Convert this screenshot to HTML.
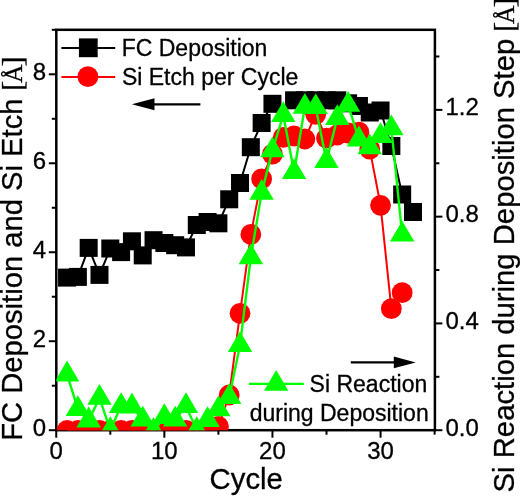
<!DOCTYPE html>
<html><head><meta charset="utf-8">
<style>
html,body{margin:0;padding:0;background:#fff;}
body{width:520px;height:496px;overflow:hidden;}
svg{display:block;}
text{font-family:"Liberation Sans",Arial,sans-serif;fill:#000;stroke:#000;stroke-width:0.3px;}
.tl{font-size:24px;}
.at{font-size:28.5px;}
.lg{font-size:23px;}
.sf{font-family:"Liberation Serif","Times New Roman",serif;}
</style></head>
<body>
<svg width="520" height="496" viewBox="0 0 520 496">
<defs><clipPath id="pc"><rect x="56.3" y="29.8" width="378.6" height="400.4"/></clipPath></defs>
<rect width="520" height="496" fill="#fff"/>
<rect x="56.3" y="29.8" width="378.6" height="400.4" fill="none" stroke="#000" stroke-width="2.5"/>
<line x1="48.8" y1="430.2" x2="56.3" y2="430.2" stroke="#000" stroke-width="2.0"/>
<line x1="51.8" y1="385.71" x2="56.3" y2="385.71" stroke="#000" stroke-width="2.0"/>
<line x1="48.8" y1="341.22" x2="56.3" y2="341.22" stroke="#000" stroke-width="2.0"/>
<line x1="51.8" y1="296.73" x2="56.3" y2="296.73" stroke="#000" stroke-width="2.0"/>
<line x1="48.8" y1="252.24" x2="56.3" y2="252.24" stroke="#000" stroke-width="2.0"/>
<line x1="51.8" y1="207.76" x2="56.3" y2="207.76" stroke="#000" stroke-width="2.0"/>
<line x1="48.8" y1="163.27" x2="56.3" y2="163.27" stroke="#000" stroke-width="2.0"/>
<line x1="51.8" y1="118.78" x2="56.3" y2="118.78" stroke="#000" stroke-width="2.0"/>
<line x1="48.8" y1="74.29" x2="56.3" y2="74.29" stroke="#000" stroke-width="2.0"/>
<line x1="51.8" y1="29.8" x2="56.3" y2="29.8" stroke="#000" stroke-width="2.0"/>
<line x1="434.9" y1="430.2" x2="442.4" y2="430.2" stroke="#000" stroke-width="2.0"/>
<line x1="434.9" y1="376.81" x2="439.4" y2="376.81" stroke="#000" stroke-width="2.0"/>
<line x1="434.9" y1="323.43" x2="442.4" y2="323.43" stroke="#000" stroke-width="2.0"/>
<line x1="434.9" y1="270.04" x2="439.4" y2="270.04" stroke="#000" stroke-width="2.0"/>
<line x1="434.9" y1="216.65" x2="442.4" y2="216.65" stroke="#000" stroke-width="2.0"/>
<line x1="434.9" y1="163.27" x2="439.4" y2="163.27" stroke="#000" stroke-width="2.0"/>
<line x1="434.9" y1="109.88" x2="442.4" y2="109.88" stroke="#000" stroke-width="2.0"/>
<line x1="434.9" y1="56.49" x2="439.4" y2="56.49" stroke="#000" stroke-width="2.0"/>
<line x1="56.25" y1="430.2" x2="56.25" y2="437.7" stroke="#000" stroke-width="2.0"/>
<line x1="110.3" y1="430.2" x2="110.3" y2="434.7" stroke="#000" stroke-width="2.0"/>
<line x1="164.35" y1="430.2" x2="164.35" y2="437.7" stroke="#000" stroke-width="2.0"/>
<line x1="218.4" y1="430.2" x2="218.4" y2="434.7" stroke="#000" stroke-width="2.0"/>
<line x1="272.45" y1="430.2" x2="272.45" y2="437.7" stroke="#000" stroke-width="2.0"/>
<line x1="326.5" y1="430.2" x2="326.5" y2="434.7" stroke="#000" stroke-width="2.0"/>
<line x1="380.55" y1="430.2" x2="380.55" y2="437.7" stroke="#000" stroke-width="2.0"/>
<line x1="434.6" y1="430.2" x2="434.6" y2="434.7" stroke="#000" stroke-width="2.0"/>
<g clip-path="url(#pc)">
<polyline points="67.06,277.6 77.87,276.9 88.68,247.9 99.49,274.9 110.3,248.5 121.11,252.1 131.92,241.3 142.73,255.4 153.54,240.2 164.35,243 175.16,245.2 185.97,247.4 196.78,225 207.59,222 218.4,223.3 229.21,199.3 240.02,183 250.83,147.2 261.64,123 272.45,103.8" fill="none" stroke="#000" stroke-width="2" stroke-linejoin="round"/>
<polyline points="294.07,100.3 304.88,100.3 315.69,100.3 326.5,100.3 337.31,100.3 348.12,103.3 358.93,106 369.74,112.5 380.55,110.5 391.36,146 402.17,194.5 412.98,212" fill="none" stroke="#000" stroke-width="2" stroke-linejoin="round"/>
<rect x="58.06" y="268.6" width="18" height="18" fill="#000"/>
<rect x="68.87" y="267.9" width="18" height="18" fill="#000"/>
<rect x="79.68" y="238.9" width="18" height="18" fill="#000"/>
<rect x="90.49" y="265.9" width="18" height="18" fill="#000"/>
<rect x="101.3" y="239.5" width="18" height="18" fill="#000"/>
<rect x="112.11" y="243.1" width="18" height="18" fill="#000"/>
<rect x="122.92" y="232.3" width="18" height="18" fill="#000"/>
<rect x="133.73" y="246.4" width="18" height="18" fill="#000"/>
<rect x="144.54" y="231.2" width="18" height="18" fill="#000"/>
<rect x="155.35" y="234" width="18" height="18" fill="#000"/>
<rect x="166.16" y="236.2" width="18" height="18" fill="#000"/>
<rect x="176.97" y="238.4" width="18" height="18" fill="#000"/>
<rect x="187.78" y="216" width="18" height="18" fill="#000"/>
<rect x="198.59" y="213" width="18" height="18" fill="#000"/>
<rect x="209.4" y="214.3" width="18" height="18" fill="#000"/>
<rect x="220.21" y="190.3" width="18" height="18" fill="#000"/>
<rect x="231.02" y="174" width="18" height="18" fill="#000"/>
<rect x="241.83" y="138.2" width="18" height="18" fill="#000"/>
<rect x="252.64" y="114" width="18" height="18" fill="#000"/>
<rect x="263.45" y="94.8" width="18" height="18" fill="#000"/>
<rect x="285.07" y="91.3" width="18" height="18" fill="#000"/>
<rect x="295.88" y="91.3" width="18" height="18" fill="#000"/>
<rect x="306.69" y="91.3" width="18" height="18" fill="#000"/>
<rect x="317.5" y="91.3" width="18" height="18" fill="#000"/>
<rect x="328.31" y="91.3" width="18" height="18" fill="#000"/>
<rect x="339.12" y="94.3" width="18" height="18" fill="#000"/>
<rect x="349.93" y="97" width="18" height="18" fill="#000"/>
<rect x="360.74" y="103.5" width="18" height="18" fill="#000"/>
<rect x="371.55" y="101.5" width="18" height="18" fill="#000"/>
<rect x="382.36" y="137" width="18" height="18" fill="#000"/>
<rect x="393.17" y="185.5" width="18" height="18" fill="#000"/>
<rect x="403.98" y="203" width="18" height="18" fill="#000"/>
<polyline points="67.06,430.5 77.87,430.5 88.68,430.5 99.49,430.5 110.3,430.5 121.11,430.5 131.92,430.5 142.73,430.5 153.54,430.5 164.35,430.5 175.16,430.5 185.97,430.5 196.78,430.5 207.59,430.5 218.4,426.3 229.21,395 240.02,313.3 250.83,234.4 261.64,178.9 272.45,154.2 283.26,137.3 294.07,136 304.88,139 315.69,114.3 326.5,138.1 337.31,135 348.12,133 358.93,132.2 369.74,149.1 380.55,205.3 391.36,308.7 402.17,292.7" fill="none" stroke="#f00" stroke-width="2" stroke-linejoin="round"/>
<circle cx="67.06" cy="430.5" r="10.4" fill="#f00"/>
<circle cx="77.87" cy="430.5" r="10.4" fill="#f00"/>
<circle cx="88.68" cy="430.5" r="10.4" fill="#f00"/>
<circle cx="99.49" cy="430.5" r="10.4" fill="#f00"/>
<circle cx="110.3" cy="430.5" r="10.4" fill="#f00"/>
<circle cx="121.11" cy="430.5" r="10.4" fill="#f00"/>
<circle cx="131.92" cy="430.5" r="10.4" fill="#f00"/>
<circle cx="142.73" cy="430.5" r="10.4" fill="#f00"/>
<circle cx="153.54" cy="430.5" r="10.4" fill="#f00"/>
<circle cx="164.35" cy="430.5" r="10.4" fill="#f00"/>
<circle cx="175.16" cy="430.5" r="10.4" fill="#f00"/>
<circle cx="185.97" cy="430.5" r="10.4" fill="#f00"/>
<circle cx="196.78" cy="430.5" r="10.4" fill="#f00"/>
<circle cx="207.59" cy="430.5" r="10.4" fill="#f00"/>
<circle cx="218.4" cy="426.3" r="10.4" fill="#f00"/>
<circle cx="229.21" cy="395" r="10.4" fill="#f00"/>
<circle cx="240.02" cy="313.3" r="10.4" fill="#f00"/>
<circle cx="250.83" cy="234.4" r="10.4" fill="#f00"/>
<circle cx="261.64" cy="178.9" r="10.4" fill="#f00"/>
<circle cx="272.45" cy="154.2" r="10.4" fill="#f00"/>
<circle cx="283.26" cy="137.3" r="10.4" fill="#f00"/>
<circle cx="294.07" cy="136" r="10.4" fill="#f00"/>
<circle cx="304.88" cy="139" r="10.4" fill="#f00"/>
<circle cx="315.69" cy="114.3" r="10.4" fill="#f00"/>
<circle cx="326.5" cy="138.1" r="10.4" fill="#f00"/>
<circle cx="337.31" cy="135" r="10.4" fill="#f00"/>
<circle cx="348.12" cy="133" r="10.4" fill="#f00"/>
<circle cx="358.93" cy="132.2" r="10.4" fill="#f00"/>
<circle cx="369.74" cy="149.1" r="10.4" fill="#f00"/>
<circle cx="380.55" cy="205.3" r="10.4" fill="#f00"/>
<circle cx="391.36" cy="308.7" r="10.4" fill="#f00"/>
<circle cx="402.17" cy="292.7" r="10.4" fill="#f00"/>
<polyline points="67.06,374.47 77.87,409.17 88.68,420.47 99.49,397.87 110.3,430.17 121.11,406.07 131.92,406.47 142.73,419.57 153.54,430.97 164.35,417.17 175.16,419.57 185.97,406.17 196.78,430.07 207.59,420.07 218.4,409.37 229.21,397.17 240.02,345.07 250.83,257.27 261.64,192.87 272.45,150.27 283.26,115.07 294.07,172.07 304.88,106.77 315.69,107.17 326.5,161.17 337.31,118.07 348.12,104.87 358.93,139.47 369.74,147.37 380.55,136.17 391.36,128.27 402.17,234.67" fill="none" stroke="#0f0" stroke-width="2.4" stroke-linejoin="round"/>
<polygon points="67.06,360.6 79.26,381.4 54.86,381.4" fill="#0f0"/>
<polygon points="77.87,395.3 90.07,416.1 65.67,416.1" fill="#0f0"/>
<polygon points="88.68,406.6 100.88,427.4 76.48,427.4" fill="#0f0"/>
<polygon points="99.49,384 111.69,404.8 87.29,404.8" fill="#0f0"/>
<polygon points="110.3,416.3 122.5,437.1 98.1,437.1" fill="#0f0"/>
<polygon points="121.11,392.2 133.31,413 108.91,413" fill="#0f0"/>
<polygon points="131.92,392.6 144.12,413.4 119.72,413.4" fill="#0f0"/>
<polygon points="142.73,405.7 154.93,426.5 130.53,426.5" fill="#0f0"/>
<polygon points="153.54,417.1 165.74,437.9 141.34,437.9" fill="#0f0"/>
<polygon points="164.35,403.3 176.55,424.1 152.15,424.1" fill="#0f0"/>
<polygon points="175.16,405.7 187.36,426.5 162.96,426.5" fill="#0f0"/>
<polygon points="185.97,392.3 198.17,413.1 173.77,413.1" fill="#0f0"/>
<polygon points="196.78,416.2 208.98,437 184.58,437" fill="#0f0"/>
<polygon points="207.59,406.2 219.79,427 195.39,427" fill="#0f0"/>
<polygon points="218.4,395.5 230.6,416.3 206.2,416.3" fill="#0f0"/>
<polygon points="229.21,383.3 241.41,404.1 217.01,404.1" fill="#0f0"/>
<polygon points="240.02,331.2 252.22,352 227.82,352" fill="#0f0"/>
<polygon points="250.83,243.4 263.03,264.2 238.63,264.2" fill="#0f0"/>
<polygon points="261.64,179 273.84,199.8 249.44,199.8" fill="#0f0"/>
<polygon points="272.45,136.4 284.65,157.2 260.25,157.2" fill="#0f0"/>
<polygon points="283.26,101.2 295.46,122 271.06,122" fill="#0f0"/>
<polygon points="294.07,158.2 306.27,179 281.87,179" fill="#0f0"/>
<polygon points="304.88,92.9 317.08,113.7 292.68,113.7" fill="#0f0"/>
<polygon points="315.69,93.3 327.89,114.1 303.49,114.1" fill="#0f0"/>
<polygon points="326.5,147.3 338.7,168.1 314.3,168.1" fill="#0f0"/>
<polygon points="337.31,104.2 349.51,125 325.11,125" fill="#0f0"/>
<polygon points="348.12,91 360.32,111.8 335.92,111.8" fill="#0f0"/>
<polygon points="358.93,125.6 371.13,146.4 346.73,146.4" fill="#0f0"/>
<polygon points="369.74,133.5 381.94,154.3 357.54,154.3" fill="#0f0"/>
<polygon points="380.55,122.3 392.75,143.1 368.35,143.1" fill="#0f0"/>
<polygon points="391.36,114.4 403.56,135.2 379.16,135.2" fill="#0f0"/>
<polygon points="402.17,220.8 414.37,241.6 389.97,241.6" fill="#0f0"/>
</g>
<text x="46" y="435.8" text-anchor="end" class="tl">0</text>
<text x="46" y="346.82" text-anchor="end" class="tl">2</text>
<text x="46" y="257.84" text-anchor="end" class="tl">4</text>
<text x="46" y="168.87" text-anchor="end" class="tl">6</text>
<text x="46" y="79.89" text-anchor="end" class="tl">8</text>
<text x="445.5" y="435.8" class="tl">0.0</text>
<text x="445.5" y="329.03" class="tl">0.4</text>
<text x="445.5" y="222.25" class="tl">0.8</text>
<text x="445.5" y="115.48" class="tl">1.2</text>
<text x="56.25" y="459.4" text-anchor="middle" class="tl">0</text>
<text x="164.35" y="459.4" text-anchor="middle" class="tl">10</text>
<text x="272.45" y="459.4" text-anchor="middle" class="tl">20</text>
<text x="380.55" y="459.4" text-anchor="middle" class="tl">30</text>
<!-- axis titles -->
<text style="font-size:29.2px" transform="translate(22,440.8) rotate(-90)">FC Deposition and Si Etch</text>
<text class="sf" transform="translate(22,90.7) rotate(-90)"><tspan style="font-size:30px">[</tspan><tspan style="font-size:25.5px" dx="-2.2">Å</tspan><tspan style="font-size:30px" dx="-2">]</tspan></text>
<text style="font-size:29.25px" transform="translate(514,492.4) rotate(-90)">Si Reaction during Deposition Step</text>
<text class="sf" transform="translate(514,31.7) rotate(-90)"><tspan style="font-size:30px">[</tspan><tspan style="font-size:25.5px" dx="-2.2">Å</tspan><tspan style="font-size:30px" dx="-2">]</tspan></text>
<text style="font-size:29.3px" x="209.6" y="489">Cycle</text>
<!-- legend 1 -->
<line x1="61.4" y1="48" x2="115.2" y2="48" stroke="#000" stroke-width="2"/>
<rect x="78.9" y="38.4" width="18.8" height="18.8" fill="#000"/>
<text class="lg" x="121.7" y="55.7">FC Deposition</text>
<line x1="61.4" y1="76.9" x2="115.2" y2="76.9" stroke="#f00" stroke-width="2"/>
<circle cx="87.9" cy="76.7" r="10.4" fill="#f00"/>
<text class="lg" x="121.9" y="85.2">Si Etch per Cycle</text>
<!-- legend 2 -->
<line x1="248.9" y1="383.9" x2="303.8" y2="383.9" stroke="#0f0" stroke-width="2.2"/>
<polygon points="276.2,370.03 288.4,390.83 264,390.83" fill="#0f0"/>
<text class="lg" x="309.6" y="392.3">Si Reaction</text>
<text class="lg" x="249.7" y="421.2">during Deposition</text>
<!-- arrows -->
<line x1="152" y1="104.3" x2="200.4" y2="104.3" stroke="#000" stroke-width="2.2"/>
<polygon points="131.9,104.3 154.5,98.3 154.5,110.3" fill="#000"/>
<line x1="350.8" y1="362.4" x2="396" y2="362.4" stroke="#000" stroke-width="2.2"/>
<polygon points="415.7,362.4 393.8,356.5 393.8,368.3" fill="#000"/>
</svg>
</body></html>
